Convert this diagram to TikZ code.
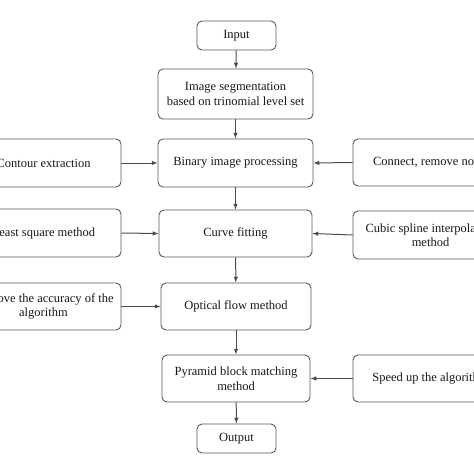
\documentclass[tikz,border=0pt]{standalone}
\usepackage{fontspec}
\setmainfont{Liberation Serif}
\begin{document}
\begin{tikzpicture}[->,>=latex,x=1pt,y=-1pt,line width=1pt,draw=black!70,
  box/.style={draw=black!65,line width=0.9pt,rounded corners=5pt,align=center,font=\fontsize{12.5}{14.5}\selectfont,text=black!90}]

\useasboundingbox (0,0) rectangle (474,474);
\clip (0,0) rectangle (474,474);

% main column
\node (input) at (236.5,35.5) [box, minimum width=79pt, minimum height=29pt] {Input};
\node (seg) at (235.5,94) [box, minimum width=155pt, minimum height=50pt] {Image segmentation\\based on trinomial level set};
\node (binary) at (235.5,163) [box, minimum width=155pt, minimum height=48pt] {Binary image processing};
\node (curve) at (235.5,233.5) [box, minimum width=153pt, minimum height=47pt] {Curve fitting};
\node (optical) at (236,306.5) [box, minimum width=150pt, minimum height=47pt] {Optical flow method};
\node (pyramid) at (236,378.5) [box, minimum width=148pt, minimum height=47pt] {Pyramid block matching\\method};
\node (output) at (236.5,438.5) [box, minimum width=79pt, minimum height=29pt] {Output};

% left side
\node (contour) at (43.5,163) [box, minimum width=155pt, minimum height=48pt] {Contour extraction};
\node (lsq) at (43.5,233) [box, minimum width=155pt, minimum height=48pt] {Least square method};
\node (improve) at (43.5,306.5) [box, minimum width=155pt, minimum height=47pt] {Improve the accuracy of the\\algorithm};

% right side
\node (noise) at (430.5,162.5) [box, minimum width=155pt, minimum height=47pt] {Connect, remove noise};
\node (spline) at (430.5,235) [box, minimum width=155pt, minimum height=48pt] {Cubic spline interpolation\\method};
\node (speed) at (430.5,378.5) [box, minimum width=155pt, minimum height=47pt] {Speed up the algorithm};

\path [->]
    (input) edge (seg)
    (seg) edge (binary)
    (binary) edge (curve)
    (curve) edge (optical)
    (optical) edge (pyramid)
    (pyramid) edge (output)
    (contour.east) edge (binary.west)
    (lsq.east) edge (curve.west)
    (improve.east) edge (optical.west)
    (noise.west) edge (binary.east)
    (spline.west) edge (curve.east)
    (speed.west) edge (pyramid.east)
;

\end{tikzpicture}
\end{document}
